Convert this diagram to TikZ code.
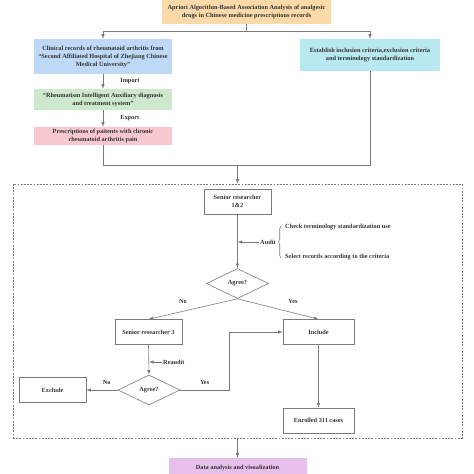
\documentclass[tikz,border=0pt]{standalone}
\usepackage{fontspec}
\setmainfont{Liberation Serif}
\usetikzlibrary{shapes.geometric,arrows,decorations.pathreplacing}

\definecolor{boxorange}{HTML}{FCD9A8}
\definecolor{boxblue}{HTML}{BDD9F5}
\definecolor{boxgreen}{HTML}{CDE8CC}
\definecolor{boxpink}{HTML}{F8C8D0}
\definecolor{boxcyan}{HTML}{B8E8F0}
\definecolor{boxpurple}{HTML}{E6C0EA}
\definecolor{linegray}{HTML}{7A7A7A}
\definecolor{txtgray}{HTML}{333333}

\begin{document}
\begin{tikzpicture}[x=1pt,y=-1pt,>=latex,
    every node/.style={font=\fontsize{6.3}{8}\selectfont\bfseries,text=txtgray},
    filled/.style={inner sep=0pt,align=center,minimum height=#1},
    plain/.style={draw=linegray,line width=0.6pt,inner sep=0pt,align=center,
        minimum width=67pt,minimum height=25pt},
    choice/.style={diamond,draw=linegray,line width=0.6pt,inner sep=0pt,
        minimum width=62pt,minimum height=30pt},
    link/.style={draw=linegray,line width=0.6pt},
    tag/.style={inner sep=1pt}]
    \clip (0,0) rectangle (474,474);
    % upper part
    \node (title) at (246.5,12) [filled=24pt, minimum width=169pt, fill=boxorange]
        {Apriori Algorithm-Based Association Analysis of analgesic\\drugs in Chinese medicine prescriptions records};
    \node (clinic) at (103,56.5) [filled=35pt, minimum width=138pt, fill=boxblue]
        {Clinical records of rheumatoid arthritis from\\“Second Affiliated Hospital of Zhejiang Chinese\\Medical University”};
    \node (criteria) at (370,55) [filled=32pt, minimum width=140pt, fill=boxcyan]
        {Establish inclusion criteria,exclusion criteria\\and terminology standardization};
    \node (system) at (103,99.5) [filled=21pt, minimum width=138pt, fill=boxgreen]
        {“Rheumatism Intelligent Auxiliary diagnosis\\and treatment system”};
    \node (presc) at (103,136) [filled=18pt, minimum width=138pt, fill=boxpink]
        {Prescriptions of paitents with chronic\\rheumatoid arthritis pain};

    \draw[link] (title.south) -- (246.5,31) coordinate (split);
    \draw[link,->] (split) -| (clinic.north);
    \draw[link,->] (split) -| (criteria.north);
    \draw[link,->] (clinic.south) -- node[tag,right=16pt]{Import} (system.north);
    \draw[link,->] (system.south) -- node[tag,right=16pt]{Export} (presc.north);

    % review panel
    \node (panel) at (237.5,311) [draw=linegray,line width=0.6pt,dash pattern=on 1.8pt off 1.4pt,
        minimum width=449pt,minimum height=254pt] {};
    \coordinate (merge) at (237.5,165);
    \draw[link] (presc.south) |- (merge);
    \draw[link] (criteria.south) |- (merge);
    \draw[link,->] (merge) -- (panel.north);

    \node (senior) at (237.5,201.5) [plain] {Senior researcher\\1\&2};
    \node (agreeA) at (237.5,283.5) [choice] {Agree?};
    \node (third) at (148.5,332) [plain] {Senior researcher 3};
    \node (include) at (318.5,332) [plain, minimum width=71pt] {Include};
    \node (agreeB) at (149,390) [choice] {Agree?};
    \node (exclude) at (52.5,390) [plain] {Exclude};
    \node (enrolled) at (318.5,420.5) [plain, minimum width=71pt] {Enrolled 311 cases};
    \node (data) at (237.5,468) [filled=20pt, minimum width=138pt, fill=boxpurple]
        {Data analysis and visualization};

    \draw[link,->] (senior.south) -- (agreeA.north);
    \coordinate (auditin) at (237.5,242);
    \node (audit) at (259,242) [tag,anchor=west] {Audit};
    \draw[link,->] (audit.west) -- (auditin);
    \draw[link,decorate,decoration={brace,mirror,amplitude=2.5pt}] (281,226) -- (281,258);
    \node (check) at (284,227) [tag,anchor=west] {Check terminology standardization use};
    \node (select) at (284,257) [tag,anchor=west] {Select records according to the criteria};

    \draw[link,->] (agreeA.south) -- node[tag,midway,xshift=-10pt,yshift=8pt]{No} (third.north);
    \draw[link,->] (agreeA.south) -- node[tag,midway,xshift=15pt,yshift=8pt]{Yes} (include.north);
    \draw[link,->] (third.south) -- (agreeB.north);
    \coordinate (reauditin) at (149,362);
    \node (reaudit) at (162,362) [tag,anchor=west] {Reaudit};
    \draw[link,->] (reaudit.west) -- (reauditin);
    \draw[link,->] (agreeB.west) -- node[tag,above=4pt,pos=0.35]{No} (exclude.east);
    \draw[link,->] (agreeB.east) -- node[tag,above=4pt]{Yes} (229,390) |- (include.west);
    \draw[link,->] (include.south) -- (enrolled.north);
    \draw[link,->] (panel.south) -- (data.north);
\end{tikzpicture}
\end{document}
